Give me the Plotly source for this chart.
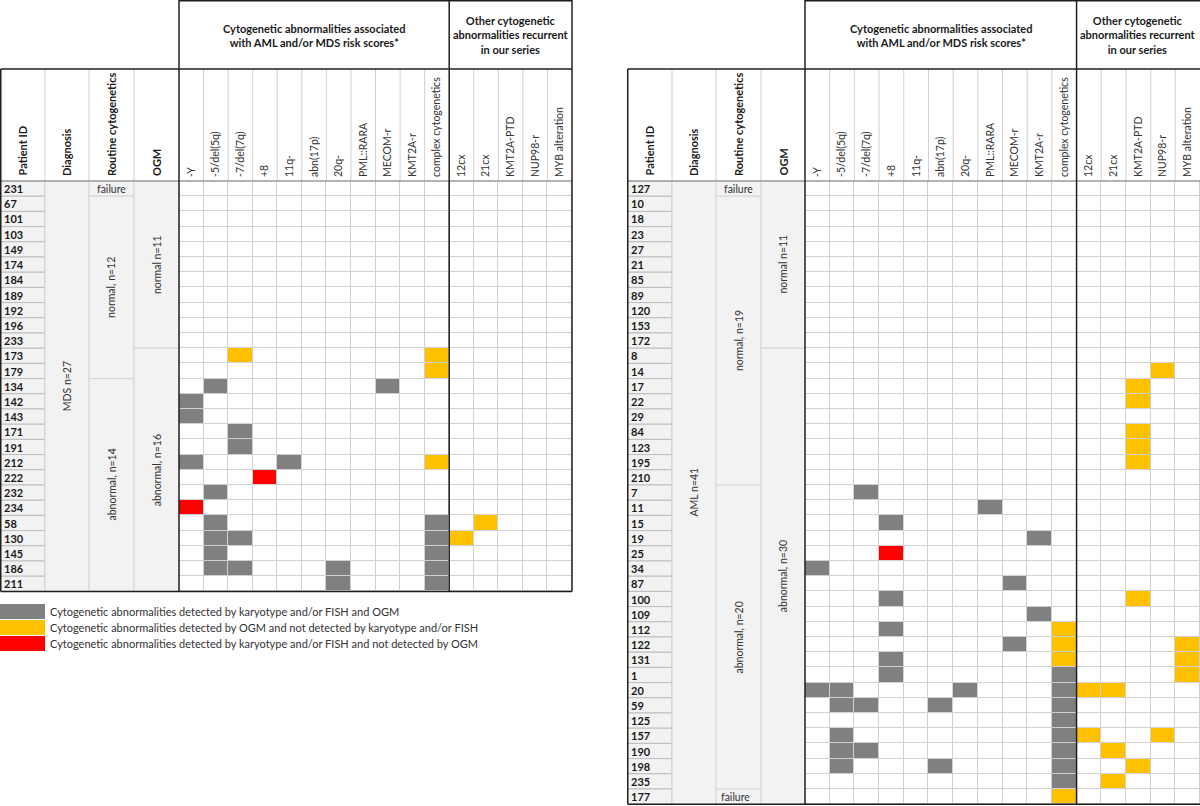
import plotly.graph_objects as go

W, H = 1200, 806

columns = ["-Y", "-5/del(5q)", "-7/del(7q)", "+8", "11q-", "abn(17p)", "20q-",
           "PML::RARA", "MECOM-r", "KMT2A-r", "complex cytogenetics",
           "12cx", "21cx", "KMT2A-PTD", "NUP98-r", "MYB alteration"]
group_titles = ["Cytogenetic abnormalities associated<br>with AML and/or MDS risk scores*",
                "Other cytogenetic<br>abnormalities recurrent<br>in our series"]
group_sizes = [11, 5]
side_headers = ["Patient ID", "Diagnosis", "Routine cytogenetics", "OGM"]

# '.' nothing, 'g' karyotype/FISH and OGM, 'o' OGM only, 'r' karyotype/FISH only
mds_ids = ["231", "67", "101", "103", "149", "174", "184", "189", "192", "196", "233",
           "173", "179", "134", "142", "143", "171", "191", "212", "222", "232", "234",
           "58", "130", "145", "186", "211"]
mds_cells = [
    "................", "................", "................", "................",
    "................", "................", "................", "................",
    "................", "................", "................",
    "..o.......o.....",  # 173
    "..........o.....",  # 179
    ".g......g.......",  # 134
    "g...............",  # 142
    "g...............",  # 143
    "..g.............",  # 171
    "..g.............",  # 191
    "g...g.....o.....",  # 212
    "...r............",  # 222
    ".g..............",  # 232
    "r...............",  # 234
    ".g........g.o...",  # 58
    ".gg.......go....",  # 130
    ".g........g.....",  # 145
    ".gg...g...g.....",  # 186
    "......g...g.....",  # 211
]
mds_diagnosis = [("MDS n=27", 27)]
mds_routine = [("failure", 1), ("normal, n=12", 12), ("abnormal, n=14", 14)]
mds_ogm = [("normal n=11", 11), ("abnormal, n=16", 16)]

aml_ids = ["127", "10", "18", "23", "27", "21", "85", "89", "120", "153", "172",
           "8", "14", "17", "22", "29", "84", "123", "195", "210", "7", "11", "15",
           "19", "25", "34", "87", "100", "109", "112", "122", "131", "1", "20",
           "59", "125", "157", "190", "198", "235", "177"]
aml_cells = [
    "................", "................", "................", "................",
    "................", "................", "................", "................",
    "................", "................", "................",
    "................",  # 8
    "..............o.",  # 14
    ".............o..",  # 17
    ".............o..",  # 22
    "................",  # 29
    ".............o..",  # 84
    ".............o..",  # 123
    ".............o..",  # 195
    "................",  # 210
    "..g.............",  # 7
    ".......g........",  # 11
    "...g............",  # 15
    ".........g......",  # 19
    "...r............",  # 25
    "g...............",  # 34
    "........g.......",  # 87
    "...g.........o..",  # 100
    ".........g......",  # 109
    "...g......o.....",  # 112
    "........g.o....o",  # 122
    "...g......o....o",  # 131
    "...g......g....o",  # 1
    "gg....g...goo...",  # 20
    ".gg..g....g.....",  # 59
    "..........g.....",  # 125
    ".g........go..o.",  # 157
    ".gg.......g.o...",  # 190
    ".g...g....g..o..",  # 198
    "..........g.o...",  # 235
    "..........o.....",  # 177
]
aml_diagnosis = [("AML n=41", 41)]
aml_routine = [("failure", 1), ("normal, n=19", 19), ("abnormal, n=20", 20), ("failure", 1)]
aml_ogm = [("normal n=11", 11), ("abnormal, n=30", 30)]

status_codes = {".": 0, "g": 1, "o": 2, "r": 3}
status_colors = ["#ffffff", "#808080", "#ffc000", "#ff0000"]
legend_labels = [
    "Cytogenetic abnormalities detected by karyotype and/or FISH and OGM",
    "Cytogenetic abnormalities detected by OGM and not detected by karyotype and/or FISH",
    "Cytogenetic abnormalities detected by karyotype and/or FISH and not detected by OGM",
]

ROW_H = 15.2
HEAD_TOP = 69
DATA_TOP = 181
FONT = "Lato"
BORDER = "#1f1f1f"
GRID = "#d0d0d0"
PANEL = "#f2f2f2"

tables = [
    dict(ids=mds_ids, cells=mds_cells, groups=[mds_diagnosis, mds_routine, mds_ogm],
         cols=[0, 45, 89, 134, 179], right=572, xa="x", ya="y"),
    dict(ids=aml_ids, cells=aml_cells, groups=[aml_diagnosis, aml_routine, aml_ogm],
         cols=[627, 672, 716, 761, 805], right=1200, xa="x2", ya="y2"),
]


def px(v):
    return v / W


def py(v):
    return 1 - v / H


# discrete colour scale, one band per status
cscale = []
for i, c in enumerate(status_colors):
    cscale += [[i / 4, c], [(i + 1) / 4, c]]

fig = go.Figure()
shapes = []
annots = []

for t in tables:
    n = len(t["ids"])
    bottom = DATA_TOP + n * ROW_H
    cols = t["cols"]
    xa, ya = t["xa"], t["ya"]
    sfx = xa[1:]
    z = [[status_codes[ch] for ch in row] for row in t["cells"]]
    fig.add_trace(go.Heatmap(
        z=z, x=list(range(len(columns))), y=list(range(n)),
        xaxis=xa, yaxis=ya, colorscale=cscale, zmin=-0.5, zmax=3.5,
        xgap=1, ygap=1, showscale=False, hoverinfo="skip"))

    fig.layout["xaxis" + sfx] = dict(
        domain=[px(cols[-1]), px(t["right"])], range=[-0.5, len(columns) - 0.5],
        anchor=ya, side="top", tickmode="array", tickvals=list(range(len(columns))),
        ticktext=columns, tickangle=-90, ticks="", ticklabelstandoff=3,
        tickfont=dict(family=FONT, size=10.5, color="#333"),
        showgrid=False, zeroline=False, showline=False, fixedrange=True)
    fig.layout["yaxis" + sfx] = dict(
        domain=[py(bottom), py(DATA_TOP)], range=[n - 0.5, -0.5], anchor=xa,
        visible=False, fixedrange=True)

    # patient ID column
    for r, pid in enumerate(t["ids"]):
        shapes.append(dict(type="rect", xref="paper", yref=ya,
                           x0=px(cols[0] + 0.5), x1=px(cols[1]), y0=r - 0.5, y1=r + 0.5,
                           fillcolor=PANEL, line=dict(color="#bdbdbd", width=1), layer="below"))
        annots.append(dict(text=pid, xref="paper", yref=ya, x=px(cols[0] + 2), y=r,
                           xanchor="left", yanchor="middle", showarrow=False,
                           font=dict(family=FONT, size=11, color="#1a1a1a", weight="bold")))

    # merged annotation columns
    for k, grp in enumerate(t["groups"], start=1):
        start = 0
        for label, count in grp:
            shapes.append(dict(type="rect", xref="paper", yref=ya,
                               x0=px(cols[k]), x1=px(cols[k + 1]),
                               y0=start - 0.5, y1=start + count - 0.5,
                               fillcolor=PANEL, line=dict(color="#d6d6d6", width=1), layer="below"))
            if label == "failure" and start + count == n:
                # last-row failure sits left-aligned in its cell
                xpos, anchor, angle = px(cols[k] + 3), "left", 0
            else:
                xpos, anchor = px((cols[k] + cols[k + 1]) / 2), "center"
                angle = 0 if label == "failure" else -90
            annots.append(dict(text=label, xref="paper", yref=ya, x=xpos,
                               y=start + (count - 1) / 2, showarrow=False,
                               textangle=angle, xanchor=anchor, yanchor="middle",
                               font=dict(family=FONT, size=10.5, color="#333")))
            start += count

    # header of the side columns
    for k, name in enumerate(side_headers):
        annots.append(dict(text=name, xref="paper", yref="paper",
                           x=px((cols[k] + cols[k + 1]) / 2), y=py(DATA_TOP - 3),
                           xanchor="center", yanchor="bottom", textangle=-90, showarrow=False,
                           font=dict(family=FONT, size=11, color="#1a1a1a", weight="bold")))
        if k > 0:
            shapes.append(dict(type="line", xref="paper", yref="paper",
                               x0=px(cols[k]), x1=px(cols[k]), y0=py(HEAD_TOP), y1=py(DATA_TOP),
                               line=dict(color=GRID, width=1)))

    # header grid of the data columns
    for i in range(len(columns) - 1):
        if i + 1 == group_sizes[0]:
            continue
        shapes.append(dict(type="line", xref=xa, yref="paper", x0=i + 0.5, x1=i + 0.5,
                           y0=py(HEAD_TOP), y1=py(DATA_TOP), line=dict(color=GRID, width=1)))

    # group titles
    gstart = 0
    for title, size in zip(group_titles, group_sizes):
        annots.append(dict(text=title, xref=xa, yref="paper", x=gstart + (size - 1) / 2,
                           y=py(HEAD_TOP / 2 + 1), xanchor="center", yanchor="middle",
                           showarrow=False,
                           font=dict(family=FONT, size=11, color="#1a1a1a", weight="bold")))
        gstart += size

    # header bottom line
    shapes.append(dict(type="line", xref="paper", yref="paper", x0=px(cols[0]), x1=px(t["right"]),
                       y0=py(DATA_TOP), y1=py(DATA_TOP), line=dict(color="#9a9a9a", width=1.5)))

    # thick borders
    b = dict(color=BORDER, width=1.5)
    xl = cols[0] + 0.75
    shapes += [
        dict(type="line", xref=xa + " domain", yref="paper", x0=0, x1=1,
             y0=py(0.75), y1=py(0.75), line=b),
        dict(type="line", xref="paper", yref="paper", x0=px(xl), x1=px(t["right"]),
             y0=py(HEAD_TOP), y1=py(HEAD_TOP), line=b),
        dict(type="line", xref="paper", yref="paper", x0=px(xl), x1=px(t["right"]),
             y0=py(bottom), y1=py(bottom), line=b),
        dict(type="line", xref="paper", yref="paper", x0=px(xl), x1=px(xl),
             y0=py(HEAD_TOP), y1=py(bottom), line=b),
        dict(type="line", xref=xa + " domain", yref="paper", x0=0, x1=0,
             y0=py(0), y1=py(bottom), line=b),
        dict(type="line", xref=xa, yref="paper", x0=group_sizes[0] - 0.5, x1=group_sizes[0] - 0.5,
             y0=py(0), y1=py(bottom), line=b),
    ]
    if t["right"] < W:
        shapes.append(dict(type="line", xref="paper", yref="paper", x0=px(t["right"]),
                           x1=px(t["right"]), y0=py(0), y1=py(bottom), line=b))

# legend below the MDS table
for i, label in enumerate(legend_labels):
    top = 604 + i * 16
    shapes.append(dict(type="rect", xref="paper", yref="paper", x0=0, x1=px(45),
                       y0=py(top + 15), y1=py(top), fillcolor=status_colors[i + 1],
                       line=dict(width=0)))
    annots.append(dict(text=label, xref="paper", yref="paper", x=px(48), y=py(top + 7.5),
                       xanchor="left", yanchor="middle", showarrow=False,
                       font=dict(family=FONT, size=11, color="#333")))

fig.update_layout(
    width=W, height=H, margin=dict(l=0, r=0, t=0, b=0),
    paper_bgcolor="white", plot_bgcolor=GRID,
    shapes=shapes, annotations=annots, showlegend=False,
)

# the page adds an 8px body margin by default; drop it so the figure fills the window
fig.write_html("out.html", config={"displayModeBar": False},
               post_script="document.body.style.margin='0';")
